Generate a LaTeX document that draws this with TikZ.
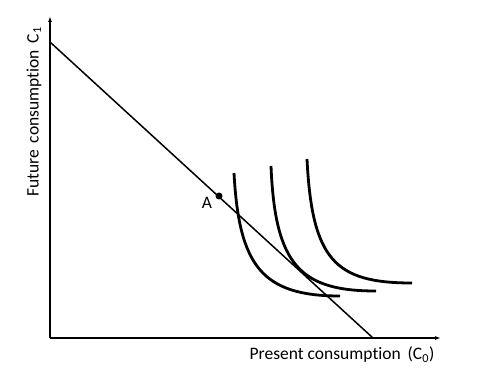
\documentclass[tikz,border=0pt]{standalone}
\usepackage{fontspec}
\setmainfont[Ligatures=NoCommon]{Carlito}
\usetikzlibrary{positioning, arrows.meta}
\tikzset{
    axis_arrow/.style={line width=1.2pt, -{Latex[length=6pt, width=4pt]}},
    budget_line/.style={line width=1.5pt},
    indiff_curve/.style={line width=2.8pt},
    dot/.style={circle, fill=black, inner sep=0pt, minimum size=7pt},
    axis_label/.style={font=\fontsize{17.5}{20}\selectfont, inner sep=0pt},
}

\begin{document}
\begin{tikzpicture}[x=1pt, y=-1pt]
    \useasboundingbox (0,0) rectangle (501,385);
    %%%%%%%%
    % AXES %
    %%%%%%%%
    \coordinate (origin) at (50,338);
    \coordinate (ytop) at (50,16);
    \coordinate (xend) at (441,338);
    \draw [axis_arrow] (origin) -- (ytop);
    \draw [axis_arrow] (origin) -- (xend);
    \node (ylabel) [axis_label, rotate=90] at (34,112)
        {Future\, consumption\, C\textsubscript{1}};
    \node (xlabel) [axis_label] at (342,355)
        {Present consumption\, (C\textsubscript{0})};

    %%%%%%%%%%%%%%%
    % BUDGET LINE %
    %%%%%%%%%%%%%%%
    \coordinate (budget_top) at (50,42);
    \coordinate (budget_end) at (373,338);
    \draw [budget_line] (budget_top) -- (budget_end);
    \node (pointA) [dot] at (219,196) {};
    \node (labelA) [axis_label, left = 3pt of pointA, yshift=-7pt] {A};

    %%%%%%%%%%%%%%%%%%%%%%%
    % INDIFFERENCE CURVES %
    %%%%%%%%%%%%%%%%%%%%%%%
    \draw [indiff_curve] (234,173) .. controls (239,266) and (262,296) .. (340,296);
    \draw [indiff_curve] (271,166) .. controls (275,265) and (300,291) .. (376,291);
    \draw [indiff_curve] (307,159) .. controls (312,260) and (335,283) .. (412,283);
\end{tikzpicture}
\end{document}
